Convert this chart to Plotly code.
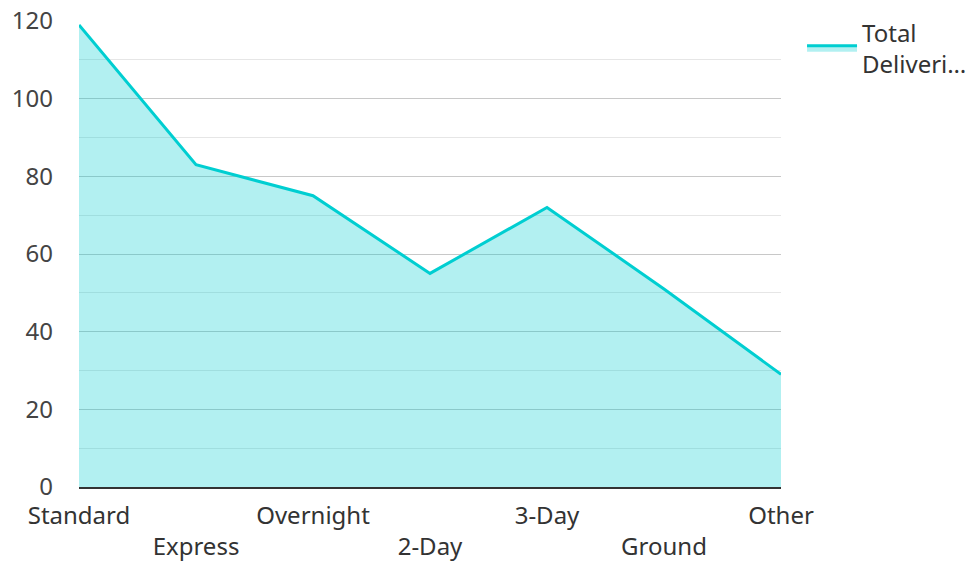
import plotly.graph_objects as go

categories = ["Standard", "Express", "Overnight", "2-Day", "3-Day", "Ground", "Other"]
values = [119, 83, 75, 55, 72, 51, 29]
y_ticks = [0, 20, 40, 60, 80, 100, 120]
series_name = "Total<br>Deliveri…"

ticktext = [c if i % 2 == 0 else "<br>" + c for i, c in enumerate(categories)]

fig = go.Figure()
fig.add_trace(go.Scatter(
    x=categories, y=values, mode="lines", name=series_name,
    line=dict(color="#00CED1", width=3),
    fill="tozeroy", fillcolor="rgba(0,206,209,0.3)",
))

fig.update_layout(
    width=975, height=563,
    margin=dict(l=79, r=194, t=21, b=76),
    plot_bgcolor="white", paper_bgcolor="white",
    font=dict(family="Noto Sans", size=24, color="#444"),
    showlegend=True,
    legend=dict(xref="container", yref="container",
                x=0.8226, y=0.982, xanchor="left", yanchor="top",
                itemwidth=50,
                font=dict(size=24, color="#333")),
    xaxis=dict(
        type="category", range=[0, 6], tickmode="array", automargin=False,
        tickvals=categories, ticktext=ticktext,
        showgrid=False, ticks="", tickfont=dict(size=24, color="#333"),
        showline=True, linecolor="#333", linewidth=2, ticklabelstandoff=6,
        ticklabeloverflow="allow",
    ),
    yaxis=dict(
        range=[0, 120], tickvals=y_ticks, showgrid=True, automargin=False,
        gridcolor="#c8c8c8", gridwidth=1,
        minor=dict(dtick=10, showgrid=True, gridcolor="#e6e6e6", gridwidth=1),
        zeroline=False, ticks="", tickfont=dict(size=24, color="#444"),
        ticklabelstandoff=25, ticklabeloverflow="allow",
    ),
)

fig.write_html(
    "out.html",
    config={"displayModeBar": False},
    post_script="document.body.style.margin='0px';document.body.style.overflow='hidden';",
)
